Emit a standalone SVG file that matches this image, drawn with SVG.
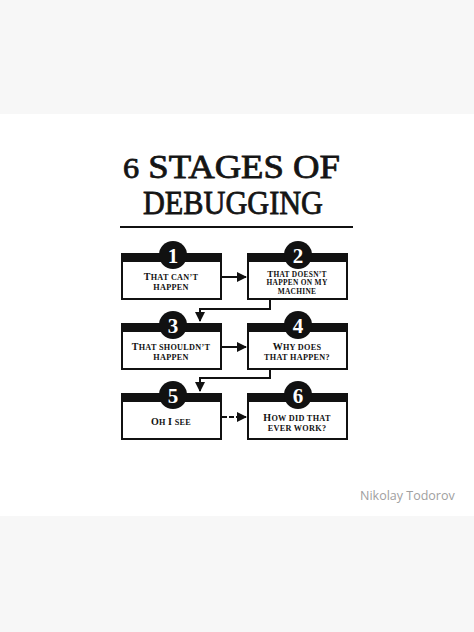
<svg xmlns="http://www.w3.org/2000/svg" width="474" height="632" viewBox="0 0 474 632">
<defs>
<style>
.title{font-family:"Liberation Serif","DejaVu Serif",serif;font-size:33px;fill:#141414;stroke:#141414;stroke-width:0.8px;}
.six{font-size:29px;}
.lbl{font-family:"Liberation Serif","DejaVu Serif",serif;font-weight:bold;font-size:8.2px;fill:#111;text-anchor:middle;letter-spacing:0.3px;}
.lbl3{font-size:7.4px;}
.cap{font-size:10px;}
.lbl3 .cap{font-size:9px;}
.num{font-family:"Liberation Serif","DejaVu Serif",serif;font-weight:bold;font-size:21px;fill:#fff;text-anchor:middle;}
.box{fill:#fff;stroke:#111;stroke-width:2;}
.band{fill:#111;}
.conn{fill:none;stroke:#111;stroke-width:2;}
.wm{font-family:"Open Sans","DejaVu Sans",sans-serif;font-size:12.5px;fill:#a0a0a0;}
</style>
<marker id="ah" viewBox="0 0 10 10" refX="9" refY="5" markerWidth="5" markerHeight="5" orient="auto" markerUnits="strokeWidth">
<path d="M0,0 L10,5 L0,10 z" fill="#111"/>
</marker>
</defs>
<rect x="0" y="0" width="474" height="632" fill="#ffffff"/>
<rect x="0" y="0" width="474" height="114" fill="#f7f7f7"/>
<rect x="0" y="516" width="474" height="116" fill="#f7f7f7"/>

<g id="title">
<text class="title" x="123" y="178" textLength="217" lengthAdjust="spacingAndGlyphs"><tspan class="six">6</tspan> STAGES OF</text>
<text class="title" x="143" y="214" textLength="180" lengthAdjust="spacingAndGlyphs">DEBUGGING</text>
<line x1="120" y1="227" x2="353" y2="227" stroke="#111" stroke-width="2"/>
</g>

<g id="connectors">
<line class="conn" x1="222" y1="277" x2="246" y2="277" marker-end="url(#ah)"/>
<polyline class="conn" points="270,300 270,309 200,309 200,321" marker-end="url(#ah)"/>
<line class="conn" x1="222" y1="347" x2="246" y2="347" marker-end="url(#ah)"/>
<polyline class="conn" points="270,370 270,378 200,378 200,391" marker-end="url(#ah)"/>
<line class="conn" x1="222" y1="417" x2="246" y2="417" stroke-dasharray="5,2" marker-end="url(#ah)"/>
</g>

<g id="node1">
<rect class="box" x="122" y="254" width="99" height="45"/>
<rect class="band" x="121" y="253" width="101" height="9"/>
<circle cx="173" cy="255" r="14" fill="#111"/>
<text class="num" x="173" y="263">1</text>
<text class="lbl" x="171" y="280"><tspan class="cap">T</tspan>HAT CAN’T</text>
<text class="lbl" x="171" y="290">HAPPEN</text>
</g>

<g id="node2">
<rect class="box" x="248" y="254" width="99" height="45"/>
<rect class="band" x="247" y="253" width="101" height="9"/>
<circle cx="298" cy="255" r="14" fill="#111"/>
<text class="num" x="298" y="263">2</text>
<text class="lbl lbl3" x="297" y="276.5"><tspan class="cap">T</tspan>HAT DOESN’T</text>
<text class="lbl lbl3" x="297" y="285">HAPPEN ON MY</text>
<text class="lbl lbl3" x="297" y="293.5">MACHINE</text>
</g>

<g id="node3">
<rect class="box" x="122" y="324" width="99" height="45"/>
<rect class="band" x="121" y="323" width="101" height="9"/>
<circle cx="173" cy="325" r="14" fill="#111"/>
<text class="num" x="173" y="333">3</text>
<text class="lbl" x="171" y="350"><tspan class="cap">T</tspan>HAT SHOULDN’T</text>
<text class="lbl" x="171" y="359.5">HAPPEN</text>
</g>

<g id="node4">
<rect class="box" x="248" y="324" width="99" height="45"/>
<rect class="band" x="247" y="323" width="101" height="9"/>
<circle cx="298" cy="325" r="14" fill="#111"/>
<text class="num" x="298" y="333">4</text>
<text class="lbl" x="297" y="350"><tspan class="cap">W</tspan>HY DOES</text>
<text class="lbl" x="297" y="359.5">THAT HAPPEN?</text>
</g>

<g id="node5">
<rect class="box" x="122" y="394" width="99" height="45"/>
<rect class="band" x="121" y="393" width="101" height="9"/>
<circle cx="173" cy="395" r="14" fill="#111"/>
<text class="num" x="173" y="403">5</text>
<text class="lbl" x="171" y="425"><tspan class="cap">O</tspan>H <tspan class="cap">I</tspan> SEE</text>
</g>

<g id="node6">
<rect class="box" x="248" y="394" width="99" height="45"/>
<rect class="band" x="247" y="393" width="101" height="9"/>
<circle cx="298" cy="395" r="14" fill="#111"/>
<text class="num" x="298" y="403">6</text>
<text class="lbl" x="297" y="421"><tspan class="cap">H</tspan>OW DID THAT</text>
<text class="lbl" x="297" y="430.5">EVER WORK?</text>
</g>

<text class="wm" x="360" y="500">Nikolay Todorov</text>
</svg>
